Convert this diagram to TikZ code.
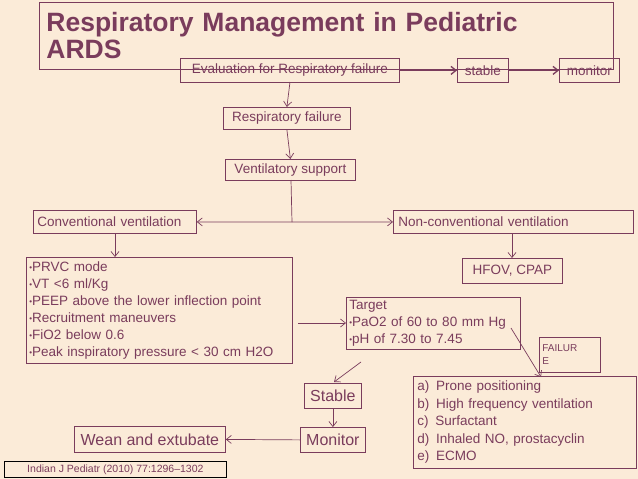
\documentclass[tikz,border=0pt]{standalone}
\usepackage{fontspec}
\setmainfont{Liberation Sans}
\usetikzlibrary{arrows.meta}
\begin{document}
\begin{tikzpicture}[x=1pt,y=-1pt,
  box/.style={draw=plum,line width=0.8pt,text=plum,anchor=north west,inner sep=2pt,font=\fontsize{13.5}{15}\selectfont},
  arr/.style={draw=plum,line width=0.7pt,-{Straight Barb[length=5pt,width=8pt]}},
  lst/.style={box,align=left,font=\fontsize{13.5}{17}\selectfont,inner xsep=3pt}]
\definecolor{plum}{HTML}{7A3C5C}
\definecolor{bg}{HTML}{FBEBD8}
\newcommand{\bul}{{\fontsize{8}{8}\selectfont\raisebox{0.3ex}{•}}}
\fill[bg] (0,0) rectangle (638,479);
\useasboundingbox (0,0) rectangle (638,479);
\node[box,minimum width=574,minimum height=67,align=left,text width=560,font=\fontsize{26.5}{27}\bfseries\selectfont,inner xsep=6pt,inner ysep=1pt] (title) at (39,2) {Respiratory Management in Pediatric\\ARDS};
\node[box,minimum width=219,minimum height=24] (eval) at (180,58) {Evaluation for Respiratory failure};
\node[box,minimum width=51,minimum height=24] (stab1) at (457,58) {stable};
\node[box,minimum width=60,minimum height=24] (mon1) at (559,58) {monitor};
\node[box,minimum width=127,minimum height=22] (rf) at (223,107) {Respiratory failure};
\node[box,minimum width=130,minimum height=21] (vs) at (225,159) {Ventilatory support};
\node[box,minimum width=163,minimum height=23,text width=155,align=left] (conv) at (33,210) {Conventional ventilation};
\node[box,minimum width=240,minimum height=23,text width=230,align=left] (ncv) at (393,210) {Non-conventional ventilation};
\node[lst,minimum width=266,minimum height=106,text width=260] (prvc) at (26,257) {\bul PRVC mode\\\bul VT <6 ml/Kg\\\bul PEEP above the lower inflection point\\\bul Recruitment maneuvers\\\bul FiO2 below 0.6\\\bul Peak inspiratory pressure < 30 cm H2O};
\node[box,minimum width=100,minimum height=25] (hfov) at (462,258) {HFOV, CPAP};
\node[lst,minimum width=174,minimum height=52,text width=168] (tgt) at (346,297) {Target\\\bul PaO2 of 60 to 80 mm Hg\\\bul pH of 7.30 to 7.45};
\node[box,minimum width=61,minimum height=35,text width=55,align=left,font=\fontsize{10}{13}\selectfont] (fail) at (539,337) {FAILUR\\E};
\node[box,minimum width=57,minimum height=25,font=\fontsize{16}{18}\selectfont] (stab2) at (304,383) {Stable};
\node[box,minimum width=65,minimum height=25,font=\fontsize{16}{18}\selectfont] (mon2) at (300,427) {Monitor};
\node[box,minimum width=151,minimum height=26,font=\fontsize{16}{18}\selectfont] (wean) at (74,426) {Wean and extubate};
\node[box,minimum width=221,minimum height=92,text width=215,align=left,font=\fontsize{13.5}{17.5}\selectfont,inner xsep=4pt] (opts) at (413,376) {a)\enspace Prone positioning\\b)\enspace High frequency ventilation\\c)\enspace Surfactant\\d)\enspace Inhaled NO, prostacyclin\\e)\enspace ECMO};
\node[box,draw=black,minimum width=222,minimum height=16,font=\fontsize{10.5}{11}\selectfont] (cite) at (4,461) {Indian J Pediatr (2010) 77:1296–1302};
\draw[arr,line width=1.3pt] (eval.east) -- (stab1.west);
\draw[arr,line width=1.3pt] (stab1.east) -- (mon1.west);
\draw[arr] (290,82) -- (rf.north);
\draw[arr] (rf.south) -- (vs.north);
\coordinate (br) at (292,222);
\draw[plum,line width=0.7pt] (291,180) -- (br);
\draw[arr] (br) -- (conv.east);
\draw[arr] (br) -- (ncv.west);
\draw[arr] (115,233) -- (115,257);
\draw[arr] (512,233) -- (512,258);
\coordinate (a1) at (298,323);
\draw[arr] (a1) -- (346,323);
\draw[arr] (511,328) -- (541,377);
\draw[arr] (361,362) -- (334,382);
\draw[arr] (stab2.south) -- (mon2.north);
\draw[arr] (mon2.west) -- (wean.east);
\end{tikzpicture}
\end{document}
